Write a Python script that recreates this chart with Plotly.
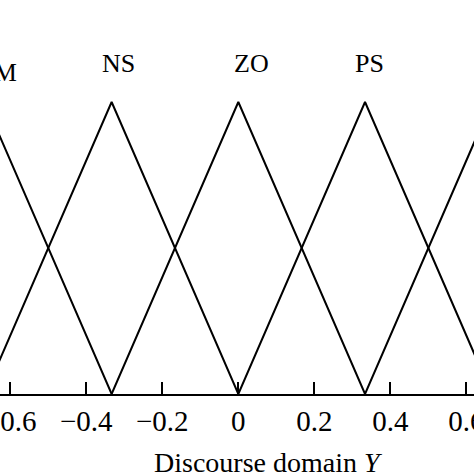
import plotly.graph_objects as go

# Fuzzy sets (triangular membership functions)
set_names = ["NM", "NS", "ZO", "PS", "PM"]
set_centers = [-2/3, -1/3, 0.0, 1/3, 2/3]
half_width = 1/3

tick_vals = [-0.6, -0.4, -0.2, 0.0, 0.2, 0.4, 0.6]
x_title = "Discourse domain <i>Y</i>"

FONT = "Liberation Serif, Times New Roman, serif"

W, H, B = 474, 474, 80
x_range = [-0.627, 0.620]
y_range = [0, (H - B) / 292]

# label positions in paper coords
label_px = [-4, 118, 251, 369, 497]
label_py = [72.5, 63.5, 63.5, 63.5, 63.5]

fig = go.Figure()
for name, c in zip(set_names, set_centers):
    fig.add_trace(go.Scatter(
        x=[c - half_width, c, c + half_width], y=[0, 1, 0],
        mode="lines", line=dict(color="black", width=2),
        name=name, showlegend=False, hoverinfo="skip"))

for name, px, py in zip(set_names, label_px, label_py):
    fig.add_annotation(x=px / W, y=(H - B - py) / (H - B), xref="paper", yref="paper",
                       text=name, showarrow=False,
                       font=dict(family=FONT, size=26, color="black"),
                       xanchor="center", yanchor="middle")

fig.add_annotation(x=268 / W, y=(H - B - 463) / (H - B), xref="paper", yref="paper",
                   text=x_title, showarrow=False,
                   font=dict(family=FONT, size=28, color="black"),
                   xanchor="center", yanchor="middle")

fig.update_layout(
    width=W, height=H,
    margin=dict(l=0, r=0, t=0, b=B, autoexpand=False),
    paper_bgcolor="white", plot_bgcolor="white",
    font=dict(family=FONT, color="black"),
    xaxis=dict(range=x_range, tickvals=tick_vals,
               ticks="inside", ticklen=12, tickwidth=2, tickcolor="black",
               showline=True, linecolor="black", linewidth=2,
               showgrid=False, zeroline=False, ticklabeloverflow="allow",
               automargin=False,
               tickfont=dict(family=FONT, size=29, color="black")),
    yaxis=dict(range=y_range, visible=False, showgrid=False, zeroline=False,
               automargin=False),
)

fig.write_html("out.html", config={"displayModeBar": False},
               post_script="document.body.style.margin='0';document.body.style.overflow='hidden';")
